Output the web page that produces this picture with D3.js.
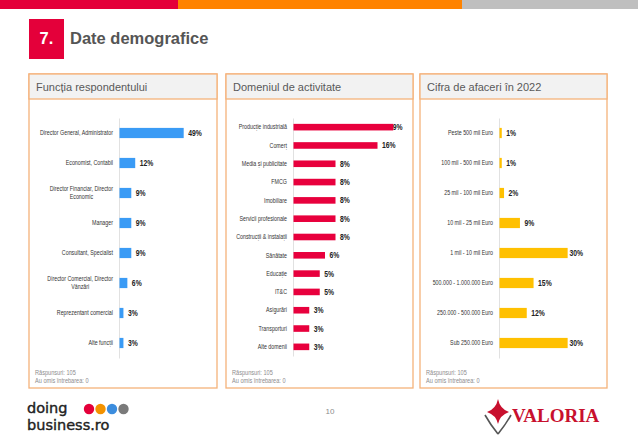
<!DOCTYPE html>
<html>
<head>
<meta charset="utf-8">
<script src="https://cdn.jsdelivr.net/npm/d3@7"></script>
<style>
  body { margin: 0; background: #fff; }
  svg { display: block; font-family: "Liberation Sans", Arial, sans-serif; }
</style>
</head>
<body>
<div id="chart"></div>
<script>
// --- data ---
const roleCats = ['Director General, Administrator', 'Economist, Contabil', 'Director Financiar, Director\nEconomic',
  'Manager', 'Consultant, Specialist', 'Director Comercial, Director\nVânzări', 'Reprezentant comercial', 'Alte funcții'];
const roleVals = [49, 12, 9, 9, 9, 6, 3, 3];

const fieldCats = ['Producție industrială', 'Comerț', 'Media și publicitate', 'FMCG', 'Imobiliare', 'Servicii profesionale',
  'Construcții & instalații', 'Sănătate', 'Educație', 'IT&C', 'Asigurări', 'Transporturi', 'Alte domenii'];
const fieldVals = [19, 16, 8, 8, 8, 8, 8, 6, 5, 5, 3, 3, 3];

const turnoverCats = ['Peste 500 mil Euro', '100 mil - 500 mil Euro', '25 mil - 100 mil Euro', '10 mil - 25 mil Euro',
  '1 mil - 10 mil Euro', '500.000 - 1.000.000 Euro', '250.000 - 500.000 Euro', 'Sub 250.000 Euro'];
const turnoverVals = [1, 1, 2, 9, 30, 15, 12, 30];

const panelTitles = ['Funcția respondentului', 'Domeniul de activitate', 'Cifra de afaceri în 2022'];
const footNotes = ['Răspunsuri: 105', 'Au omis întrebarea: 0'];

const width = 638, height = 442;
const svg = d3.select('#chart').append('svg').attr('width', width).attr('height', height);

// the excel charts on the slide are squeezed sideways
const squeeze = 0.76;
function condense(sel, f) {
  sel.each(function() {
    const w = this.getComputedTextLength();
    this.setAttribute('textLength', w * f);
    this.setAttribute('lengthAdjust', 'spacingAndGlyphs');
  });
}

/// top colour strip
svg.append('rect').attr('x', 0).attr('y', 0).attr('width', 178).attr('height', 9).attr('fill', '#e4003a');
svg.append('rect').attr('x', 178).attr('y', 0).attr('width', 284).attr('height', 9).attr('fill', '#ff8300');
svg.append('rect').attr('x', 462).attr('y', 0).attr('width', 176).attr('height', 9).attr('fill', '#bfbfbf');

/// section title
svg.append('rect').attr('x', 29).attr('y', 19).attr('width', 35).attr('height', 40).attr('fill', '#e4003a');
svg.append('text').attr('x', 46.5).attr('y', 44).attr('text-anchor', 'middle')
  .attr('font-size', 16.5).attr('font-weight', 'bold').attr('fill', '#fff').text('7.');
svg.append('text').attr('x', 70).attr('y', 44)
  .attr('font-size', 16.5).attr('font-weight', 'bold').attr('fill', '#555').text('Date demografice');

const panels = [
  { x: 29, w: 188, axisX: 90, maxV: 60, plotW: 78.6, y0: 118, y1: 358, pad: 0.66, color: '#3a9bf5', cats: roleCats, vals: roleVals, noteX: 6 },
  { x: 226, w: 187, axisX: 67, maxV: 20, plotW: 105, y0: 118, y1: 356, pad: 0.64, color: '#e8003d', cats: fieldCats, vals: fieldVals, noteX: 6 },
  { x: 420, w: 187, axisX: 79, maxV: 35, plotW: 79.5, y0: 118, y1: 358, pad: 0.66, color: '#ffc000', cats: turnoverCats, vals: turnoverVals, noteX: 6 }
];

panels.forEach(function(p, i) {
  let g = svg.append('g').attr('transform', 'translate(' + p.x + ',0)');

  // frame + header band
  g.append('rect').attr('x', 0).attr('y', 74).attr('width', p.w).attr('height', 314)
    .attr('fill', '#fff').attr('stroke', '#f5b27a').attr('stroke-width', 1.3);
  g.append('rect').attr('x', 0).attr('y', 74).attr('width', p.w).attr('height', 25)
    .attr('fill', '#f2f2f2').attr('stroke', '#f5b27a').attr('stroke-width', 1.3);
  g.append('text').attr('x', 7).attr('y', 91).attr('font-size', 11).attr('fill', '#595959').text(panelTitles[i]);

  let x = d3.scaleLinear().domain([0, p.maxV]).range([0, p.plotW]);
  let y = d3.scaleBand().domain(p.cats).range([p.y0, p.y1]).paddingInner(p.pad).paddingOuter(p.pad / 2);

  let plot = g.append('g').attr('transform', 'translate(' + p.axisX + ',0)');

  /// category axis
  let ax = plot.append('g').call(d3.axisLeft(y).tickSize(0).tickPadding(6));
  ax.select('.domain').attr('stroke', '#d9d9d9').attr('stroke-width', 0.8);
  ax.selectAll('.tick').each(function(d) {
    let tick = d3.select(this);
    tick.select('text').remove();
    let lines = d.split('\n');
    let texts = lines.map(function(line, k) {
      return tick.append('text')
        .attr('y', (k - (lines.length - 1) / 2) * 8.3)
        .attr('dy', '0.32em')
        .attr('font-size', 7).attr('fill', '#333')
        .attr('font-family', '"Liberation Sans", Arial, sans-serif')
        .text(line);
    });
    let widths = texts.map(function(t) { return t.node().getComputedTextLength() * squeeze; });
    let maxW = d3.max(widths);
    texts.forEach(function(t) {
      condense(t, squeeze);
      if (lines.length > 1) t.attr('text-anchor', 'middle').attr('x', -6 - maxW / 2);
      else t.attr('text-anchor', 'end').attr('x', -6);
    });
  });

  let rows = p.cats.map(function(c, k) { return { cat: c, val: p.vals[k] }; });

  /// value labels (drawn first so a long bar can run over its own label, as on the slide)
  let labels = plot.selectAll('.val').data(rows).enter().append('text')
    .attr('class', 'val')
    .attr('x', function(d) { return Math.min(x(d.val) + 5, p.plotW - 9); })
    .attr('y', function(d) { return y(d.cat) + y.bandwidth() / 2; })
    .attr('dy', '0.35em')
    .attr('font-size', 8.5).attr('font-weight', 'bold').attr('fill', '#222')
    .text(function(d) { return d.val + '%'; });
  condense(labels, 0.8);

  plot.selectAll('.bar').data(rows).enter().append('rect')
    .attr('class', 'bar')
    .attr('x', 0.5)
    .attr('y', function(d) { return y(d.cat); })
    .attr('width', function(d) { return x(d.val); })
    .attr('height', y.bandwidth())
    .attr('fill', p.color);

  /// response counts
  let notes = g.selectAll('.note').data(footNotes).enter().append('text')
    .attr('x', p.noteX).attr('y', function(d, k) { return 375 + k * 7.5; })
    .attr('font-size', 7).attr('fill', '#8c8c8c').text(function(d) { return d; });
  condense(notes, 0.8);
});

/// page number
svg.append('text').attr('x', 330).attr('y', 414).attr('text-anchor', 'middle')
  .attr('font-size', 8).attr('fill', '#8c8c8c').text('10');

/// doingbusiness.ro logo
let logo = svg.append('g');
logo.append('text').attr('x', 27).attr('y', 413).attr('font-family', '"DejaVu Sans", sans-serif')
  .attr('font-size', 14.5).attr('fill', '#222').attr('stroke', '#222').attr('stroke-width', 0.4).text('doing');
logo.append('text').attr('x', 27).attr('y', 430).attr('font-family', '"DejaVu Sans", sans-serif')
  .attr('font-size', 14.5).attr('fill', '#222').attr('stroke', '#222').attr('stroke-width', 0.4).text('business.ro');
['#e4003a', '#f39200', '#3c8dde', '#7a7a7a'].forEach(function(c, k) {
  logo.append('circle').attr('cx', 89 + k * 11.5).attr('cy', 409).attr('r', 5.2).attr('fill', c);
});

/// VALORIA logo
let val = svg.append('g');
val.append('path')
  .attr('d', 'M498,399 Q500,409 509,412 Q500,415 498,424 Q496,415 487,412 Q496,409 498,399 Z')
  .attr('fill', '#c8102e');
val.append('path')
  .attr('d', 'M485,415 Q490,424 498,434 M511,415 Q506,424 498,434')
  .attr('fill', 'none').attr('stroke', '#555').attr('stroke-width', 1.6);
val.append('text').attr('x', 512).attr('y', 422)
  .attr('font-family', '"Liberation Serif", serif').attr('font-size', 19).attr('font-weight', 'bold')
  .attr('fill', '#c8102e').text('VALORIA');
</script>
</body>
</html>
